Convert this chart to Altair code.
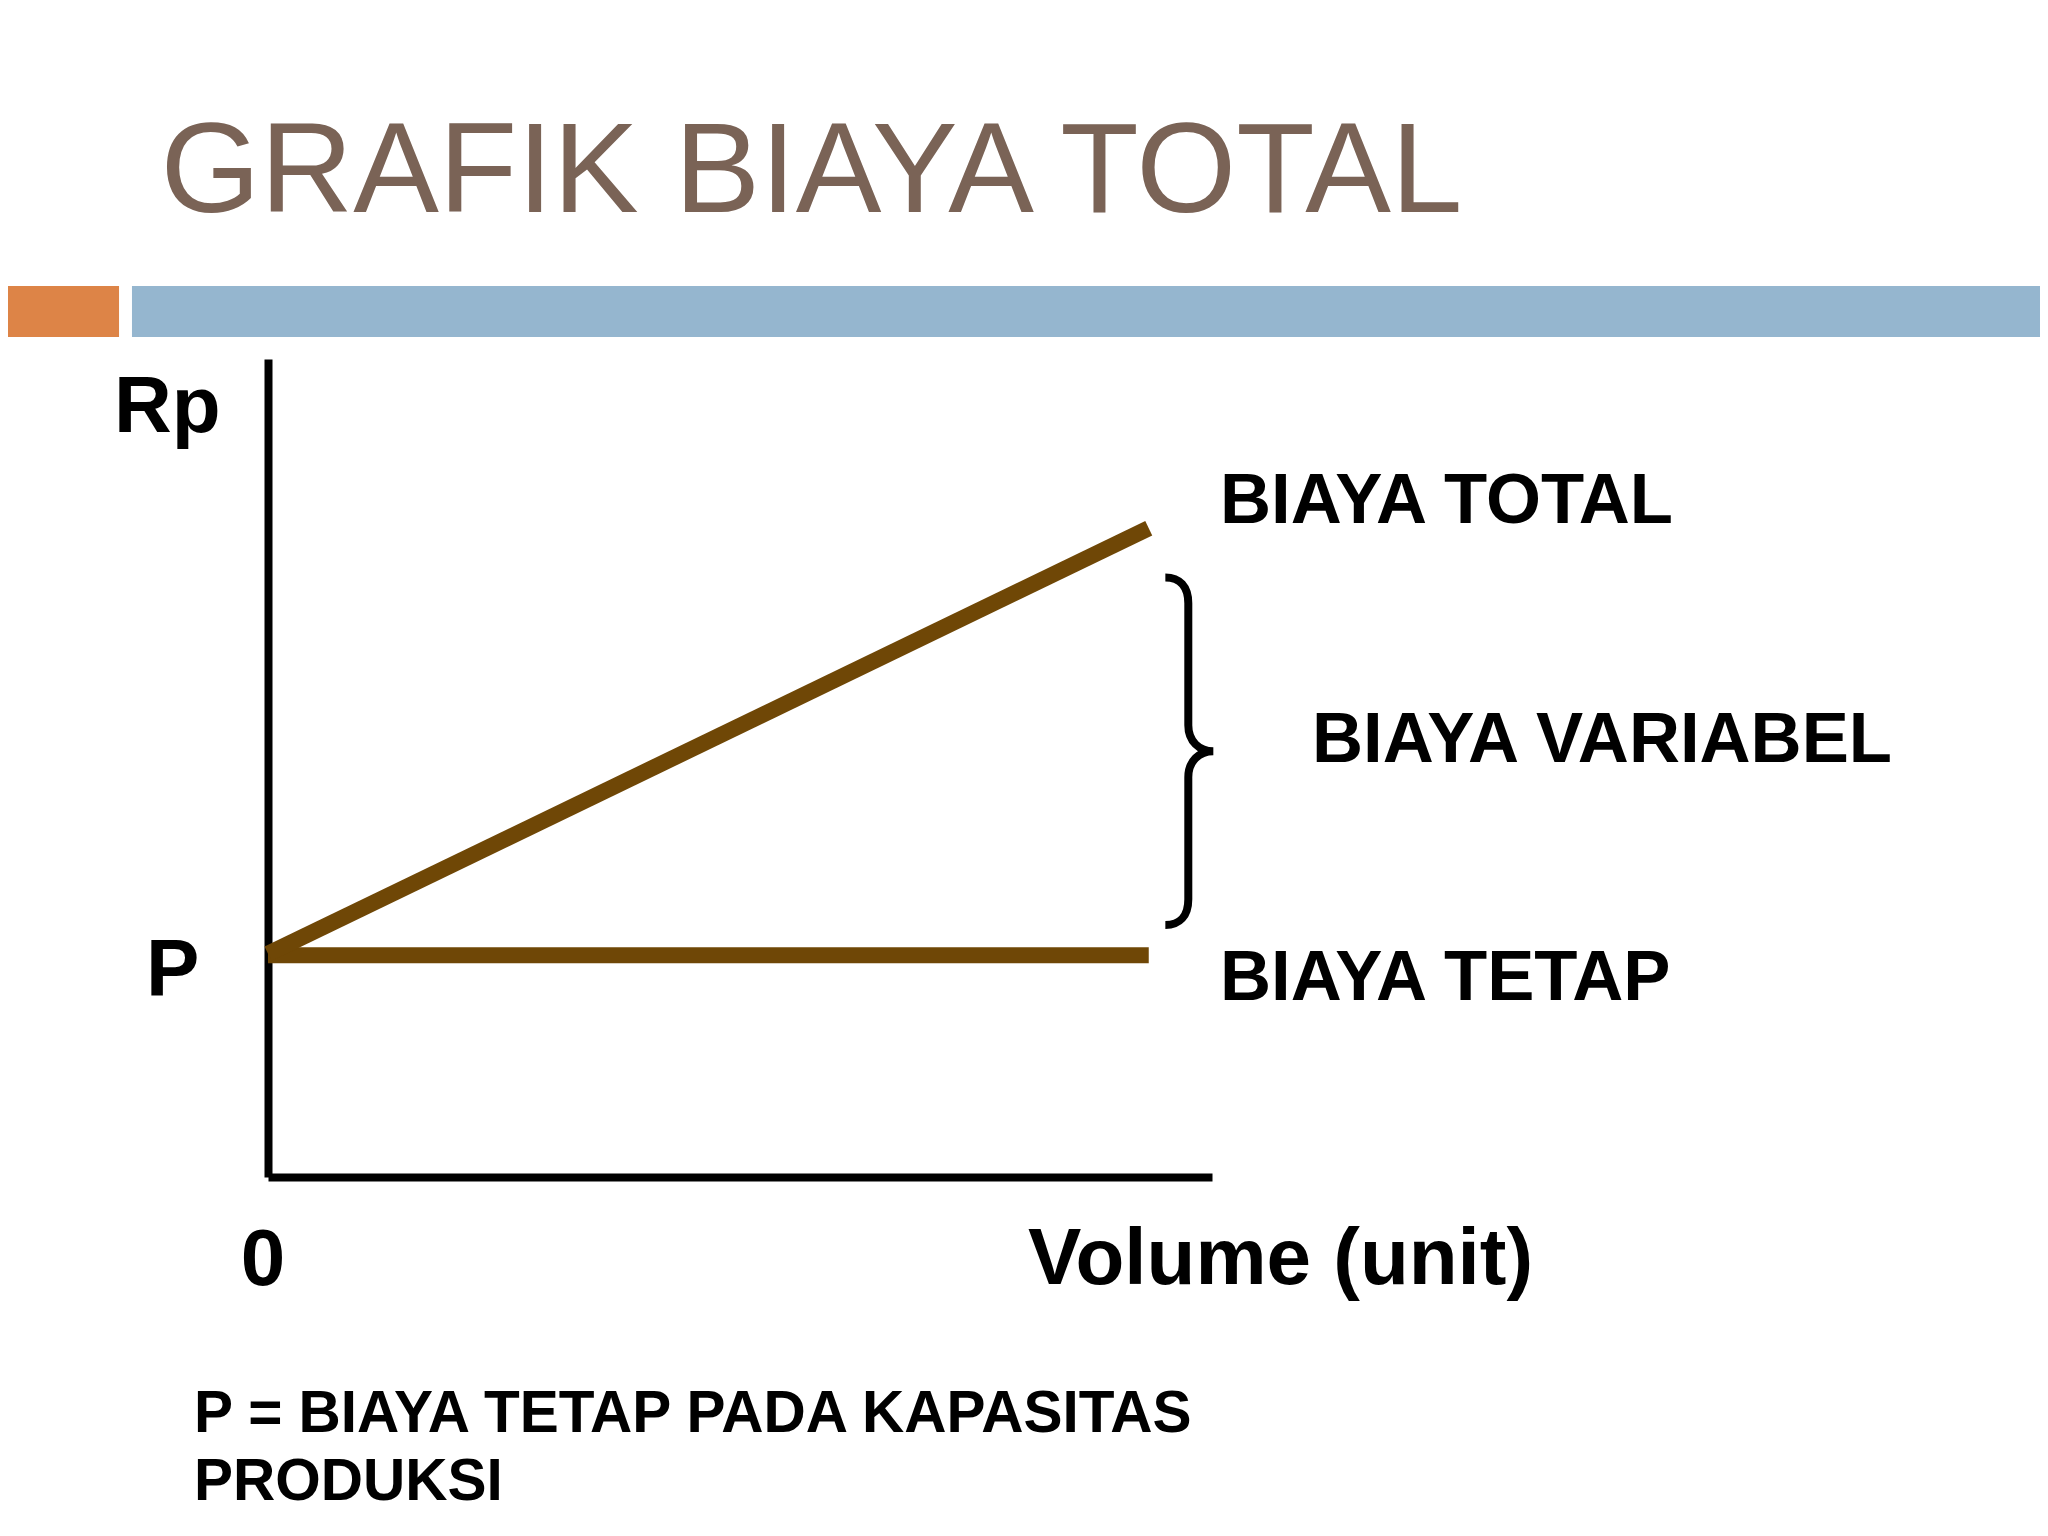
import altair as alt
import pandas as pd

# ---- data ----
volume = [0, 93.3]            # volume axis, arbitrary units (0..100 span of axis)
fixed_cost = [27.1, 27.1]     # BIAYA TETAP (P)
total_cost = [27.3, 79.3]     # BIAYA TOTAL
brace_span = [30.8, 73.3]     # extent of the BIAYA VARIABEL brace (value units)
brace_x = 97.6

title_text = "GRAFIK BIAYA TOTAL"
series_labels = ["BIAYA TOTAL", "BIAYA VARIABEL", "BIAYA TETAP"]
axis_labels = ["Rp", "P", "0", "Volume (unit)"]
note_lines = ["P = BIAYA TETAP PADA KAPASITAS", "PRODUKSI"]

# ---- layout ----
W, H = 944, 818
PAD = {"left": 260, "top": 351, "right": 2032 - 260 - W, "bottom": 1520 - 351 - H}
FONT = "Liberation Sans"
LINE_COLOR = "#6f4706"

xs = alt.Scale(domain=[0, 100], nice=False, zero=False)
ys = alt.Scale(domain=[0, 100], nice=False, zero=False)

lines_df = pd.DataFrame({
    "volume": volume * 2,
    "cost": fixed_cost + total_cost,
    "series": ["tetap"] * 2 + ["total"] * 2,
})

base_axes = alt.Chart(lines_df).mark_line(
    color=LINE_COLOR, strokeWidth=16, strokeCap="butt"
).encode(
    x=alt.X("volume:Q", scale=xs,
            axis=alt.Axis(domain=True, domainColor="black", domainWidth=8,
                          ticks=False, labels=False, grid=False, title=None)),
    y=alt.Y("cost:Q", scale=ys,
            axis=alt.Axis(domain=True, domainColor="black", domainWidth=8,
                          ticks=False, labels=False, grid=False, title=None)),
    detail="series:N",
)

# header bars
bars_df = pd.DataFrame({
    "x": [-28.4, -14.41],
    "x2": [-15.78, 190.0],
    "y": [102.69, 102.69],
    "y2": [108.92, 108.92],
    "c": ["#dd8447", "#95b6cf"],
})
bars = alt.Chart(bars_df).mark_rect().encode(
    x=alt.X("x:Q", scale=xs), x2="x2:Q",
    y=alt.Y("y:Q", scale=ys), y2="y2:Q",
    color=alt.Color("c:N", scale=None),
)

# title
title_df = pd.DataFrame({"t": [title_text], "x": [-11.4], "y": [117.97]})
title = alt.Chart(title_df).mark_text(
    align="left", baseline="alphabetic", font=FONT, fontSize=128.5,
    fontWeight="normal", color="#7a6356"
).encode(x=alt.X("x:Q", scale=xs), y=alt.Y("y:Q", scale=ys), text="t:N")

# axis labels (bold, 80px)
ax_df = pd.DataFrame({
    "t": axis_labels,
    "x": [-16.31, -12.92, -0.53, 80.51],
    "y": [91.08, 22.25, -13.2, -13.08],
    "a": ["left", "left", "center", "left"],
})
ax_left = alt.Chart(ax_df[ax_df.a == "left"]).mark_text(
    align="left", baseline="alphabetic", font=FONT, fontSize=80,
    fontWeight="bold", color="black"
).encode(x=alt.X("x:Q", scale=xs), y=alt.Y("y:Q", scale=ys), text="t:N")
ax_center = alt.Chart(ax_df[ax_df.a == "center"]).mark_text(
    align="center", baseline="alphabetic", font=FONT, fontSize=80,
    fontWeight="bold", color="black"
).encode(x=alt.X("x:Q", scale=xs), y=alt.Y("y:Q", scale=ys), text="t:N")

# series labels (bold)
sl_df = pd.DataFrame({
    "t": series_labels,
    "x": [100.85, 110.59, 100.85],
    "y": [79.95, 50.79, 21.58],
})
series_text = alt.Chart(sl_df).mark_text(
    align="left", baseline="alphabetic", font=FONT, fontSize=70.7,
    fontWeight="bold", color="black"
).encode(x=alt.X("x:Q", scale=xs), y=alt.Y("y:Q", scale=ys), text="t:N")

# note
note_df = pd.DataFrame({"t": note_lines, "x": [-7.84, -7.84], "y": [-31.17, -39.49]})
note = alt.Chart(note_df).mark_text(
    align="left", baseline="alphabetic", font=FONT, fontSize=58.5,
    fontWeight="bold", color="black"
).encode(x=alt.X("x:Q", scale=xs), y=alt.Y("y:Q", scale=ys), text="t:N")

# brace  (custom symbol path in [-1, 1] box)
brace_path = ("M -0.138 -1 C -0.057 -1 -0.006 -0.948 -0.006 -0.851 "
              "L -0.006 -0.149 C -0.006 -0.057 0.057 0 0.138 0 "
              "C 0.057 0 -0.006 0.057 -0.006 0.149 "
              "L -0.006 0.851 C -0.006 0.948 -0.057 1 -0.138 1")
brace_df = pd.DataFrame({"x": [brace_x], "y": [(brace_span[0] + brace_span[1]) / 2]})
brace_px = (brace_span[1] - brace_span[0]) / 100 * H
brace = alt.Chart(brace_df).mark_point(
    shape=brace_path, size=brace_px ** 2, filled=False, stroke="black",
    strokeWidth=8, opacity=1
).encode(x=alt.X("x:Q", scale=xs), y=alt.Y("y:Q", scale=ys))

chart = alt.layer(
    bars, title, base_axes, brace, ax_left, ax_center, series_text, note
).properties(
    width=W, height=H, padding=PAD, autosize=alt.AutoSizeParams(type="none"),
    background="white",
).configure_view(stroke=None)

chart.save("out.html", embed_options={"renderer": "svg", "actions": False})
